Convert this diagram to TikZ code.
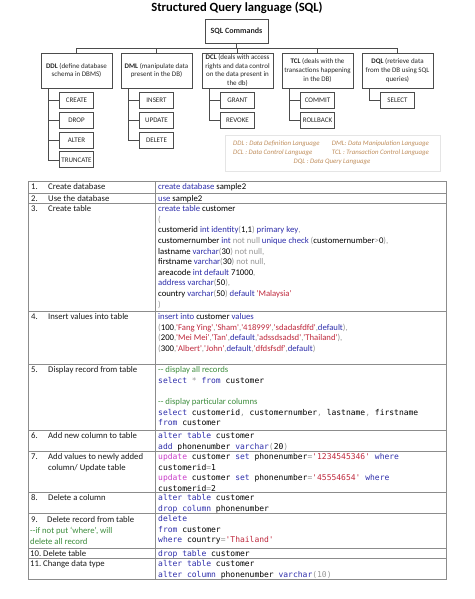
\documentclass[tikz,border=0pt]{standalone}
\usepackage{fontspec}
\setmainfont{Carlito}
\newfontfamily\sqlfont{Carlito}
\newfontfamily\codemono{DejaVu Sans Mono}
\usetikzlibrary{positioning}

% SQL Server style colours
\definecolor{sqlblue}{RGB}{45,45,170}
\definecolor{sqlred}{RGB}{190,40,60}
\definecolor{sqlgray}{RGB}{150,150,150}
\definecolor{sqlpink}{RGB}{200,60,200}
\definecolor{sqlgreen}{RGB}{60,140,60}
\definecolor{legendtan}{RGB}{190,140,90}

\newcommand{\sqkw}[1]{\textcolor{sqlblue}{#1}}
\newcommand{\sqstr}[1]{\textcolor{sqlred}{#1}}
\newcommand{\sqop}[1]{\textcolor{sqlgray}{#1}}
\newcommand{\sqfn}[1]{\textcolor{sqlpink}{#1}}
\newcommand{\sqcm}[1]{\textcolor{sqlgreen}{#1}}

\begin{document}
\begin{tikzpicture}[
    x=1pt, y=-1pt, % one unit per pixel, y running downwards
    head/.style={draw=black!70, line width=0.7pt, minimum width=63pt, minimum height=24pt, font=\bfseries\fontsize{8}{9}\selectfont, text=black!85}, % Root box
    box/.style={draw=black!70, line width=0.7pt, minimum width=71pt, minimum height=35pt, inner sep=1pt, align=center, font=\fontsize{7}{8.6}\selectfont, text=black!85}, % Category boxes
    leaf/.style={draw=black!70, line width=0.7pt, minimum width=34pt, minimum height=16pt, inner sep=0pt, font=\fontsize{7}{8}\selectfont, text=black!85}, % Command boxes
    link/.style={draw=black!70, line width=0.6pt}, % Tree connectors
    grid/.style={draw=black!45, line width=0.8pt}, % Table rules
    cell/.style={anchor=north west, inner sep=0pt, align=left, font=\sqlfont\fontsize{8.7}{10.6}\selectfont}, % Code cell
    monocell/.style={cell, font=\codemono\fontsize{8}{10.6}\selectfont}, % Mono code cell
    labelcell/.style={cell, font=\fontsize{8.7}{10.6}\selectfont, text=black!90}, % Left column
    legend/.style={inner sep=0pt, text=legendtan, font=\itshape\fontsize{6.8}{8}\selectfont} % Abbreviations
]
    \useasboundingbox (0,0) rectangle (474,599);

    \def\codex{158} % Left edge of code text
    \def\labx{31}   % Left edge of step labels

    % --- Title ---
    \node[font=\bfseries\fontsize{12.6}{14}\selectfont] (title) at (237,8) {Structured Query language (SQL)};

    % --- Tree of commands ---
    \node[head] (cmd) at (236.5,31) {SQL Commands};

    \node[box] (ddl) at (76.5,70.5)  {\textbf{DDL} (define database\\schema in DBMS)};
    \node[box] (dml) at (156.5,70.5) {\textbf{DML} (manipulate data\\present in the DB)};
    \node[box] (dcl) at (237.5,70.5) {\textbf{DCL} (deals with access\\rights and data control\\on the data present in\\the db)};
    \node[box] (tcl) at (317.5,70.5) {\textbf{TCL} (deals with the\\transactions happening\\in the DB)};
    \node[box] (dql) at (397.5,70.5) {\textbf{DQL} (retrieve data\\from the DB using SQL\\queries)};

    \foreach \n in {ddl,dml,dcl,tcl,dql}
        \draw[link] (cmd.south) -- ++(0,5) -| (\n.north);

    % DDL commands
    \node[leaf, below=4pt of ddl]      (create)   {CREATE};
    \node[leaf, below=3pt of create]   (drop)     {DROP};
    \node[leaf, below=3pt of drop]     (alter)    {ALTER};
    \node[leaf, below=3pt of alter]    (truncate) {TRUNCATE};
    % DML commands
    \node[leaf, below=4pt of dml]      (insert)   {INSERT};
    \node[leaf, below=3pt of insert]   (update)   {UPDATE};
    \node[leaf, below=3pt of update]   (delete)   {DELETE};
    % DCL commands
    \node[leaf, below=4pt of dcl]      (grant)    {GRANT};
    \node[leaf, below=3pt of grant]    (revoke)   {REVOKE};
    % TCL commands
    \node[leaf, below=4pt of tcl]      (commit)   {COMMIT};
    \node[leaf, below=3pt of commit]   (rollback) {ROLLBACK};
    % DQL commands
    \node[leaf, below=4pt of dql]      (select)   {SELECT};

    \foreach \p/\c in {ddl/create, ddl/drop, ddl/alter, ddl/truncate,
                       dml/insert, dml/update, dml/delete,
                       dcl/grant, dcl/revoke,
                       tcl/commit, tcl/rollback,
                       dql/select}
        \draw[link] ([xshift=8pt]\p.south west) |- (\c.west);

    % --- Legend of abbreviations ---
    \draw[draw=black!10] (225,135) rectangle (440,171);
    \node[legend, anchor=west] (lgddl) at (233,144) {DDL : Data Definition Language};
    \node[legend, anchor=east] (lgdml) at (429,144) {DML: Data Manipulation Language};
    \node[legend, anchor=west] (lgdcl) at (233,153) {DCL : Data Control Language};
    \node[legend, anchor=east] (lgtcl) at (429,153) {TCL : Transaction Control Language};
    \node[legend] (lgdql) at (332,162) {DQL : Data Query Language};

    % --- Table frame ---
    \draw[grid] (28,181) rectangle (446,579);
    \draw[grid] (155,181) -- (155,579);
    \foreach \y in {193,203,311,364,430,451,492,513,548,558}
        \draw[grid] (28,\y) -- (446,\y);

    % --- Step labels ---
    \node[labelcell] (lab1)  at (\labx,182) {\strut\makebox[17pt][l]{1.}Create database};
    \node[labelcell] (lab2)  at (\labx,194) {\strut\makebox[17pt][l]{2.}Use the database};
    \node[labelcell] (lab3)  at (\labx,204) {\strut\makebox[17pt][l]{3.}Create table};
    \node[labelcell] (lab4)  at (\labx,312) {\strut\makebox[17pt][l]{4.}Insert values into table};
    \node[labelcell] (lab5)  at (\labx,365) {\strut\makebox[17pt][l]{5.}Display record from table};
    \node[labelcell] (lab6)  at (\labx,431) {\strut\makebox[17pt][l]{6.}Add new column to table};
    \node[labelcell] (lab7)  at (\labx,452) {\strut\makebox[17pt][l]{7.}Add values to newly added\\\hspace*{17pt}column/ Update table};
    \node[labelcell] (lab8)  at (\labx,493) {\strut\makebox[17pt][l]{8.}Delete a column};
    \node[labelcell, font=\fontsize{8.7}{11.3}\selectfont] (lab9) at (\labx-1,514) {\strut\hspace*{1pt}\makebox[16pt][l]{9.}Delete record from table\\\sqcm{-{}-if not put `where', will}\\\sqcm{delete all record}};
    \node[labelcell] (lab10) at (\labx-1,549) {\strut 10.\ Delete table};
    \node[labelcell] (lab11) at (\labx-1,559) {\strut 11.\ Change data type};

    % --- Code cells ---
    \node[cell] (code1) at (\codex,182) {\strut\sqkw{create database} sample2};
    \node[cell] (code2) at (\codex,194) {\strut\sqkw{use} sample2};
    \node[cell] (code3) at (\codex,204) {\strut\sqkw{create table} customer\\
        \sqop{(}\\
        customerid \sqkw{int identity}\sqop{(}1,1\sqop{)} \sqkw{primary key}\sqop{,}\\
        customernumber \sqkw{int} \sqop{not null} \sqkw{unique check} \sqop{(}customernumber\sqop{>}0\sqop{),}\\
        lastname \sqkw{varchar}\sqop{(}30\sqop{) not null,}\\
        firstname \sqkw{varchar}\sqop{(}30\sqop{) not null,}\\
        areacode \sqkw{int default} 71000\sqop{,}\\
        \sqkw{address varchar}\sqop{(}50\sqop{),}\\
        country \sqkw{varchar}\sqop{(}50\sqop{)} \sqkw{default} \sqstr{'Malaysia'}\\
        \sqop{)}};
    \node[cell] (code4) at (\codex,312) {\strut\sqkw{insert into} customer \sqkw{values}\\
        \sqop{(}100\sqop{,}\sqstr{'Fang Ying'}\sqop{,}\sqstr{'Sham'}\sqop{,}\sqstr{'418999'}\sqop{,}\sqstr{'sdadasfdfd'}\sqop{,}\sqkw{default}\sqop{),}\\
        \sqop{(}200\sqop{,}\sqstr{'Mei Mei'}\sqop{,}\sqstr{'Tan'}\sqop{,}\sqkw{default}\sqop{,}\sqstr{'adssdsadsd'}\sqop{,}\sqstr{'Thailand'}\sqop{),}\\
        \sqop{(}300\sqop{,}\sqstr{'Albert'}\sqop{,}\sqstr{'John'}\sqop{,}\sqkw{default}\sqop{,}\sqstr{'dfdsfsdf'}\sqop{,}\sqkw{default}\sqop{)}};
    \node[cell] (code5) at (\codex,365) {\strut\sqcm{-{}- display all records}\\
        {\codemono\fontsize{8}{10.6}\selectfont\sqkw{select} \sqop{*} \sqkw{from} customer}\\
        \strut\\
        \sqcm{-{}- display particular columns}\\
        {\codemono\fontsize{8}{10.6}\selectfont\sqkw{select} customerid\sqop{,} customernumber\sqop{,} lastname\sqop{,} firstname}\\
        {\codemono\fontsize{8}{10.6}\selectfont\sqkw{from} customer}};
    \node[monocell] (code6) at (\codex,431) {\strut\sqkw{alter table} customer\\
        \sqkw{add} phonenumber \sqkw{varchar}\sqop{(}20\sqop{)}};
    \node[monocell] (code7) at (\codex,452) {\strut\sqfn{update} customer \sqkw{set} phonenumber\sqop{=}\sqstr{'1234545346'} \sqkw{where}\\
        customerid\sqop{=}1\\
        \sqfn{update} customer \sqkw{set} phonenumber\sqop{=}\sqstr{'45554654'} \sqkw{where}\\
        customerid\sqop{=}2};
    \node[monocell] (code8) at (\codex,493) {\strut\sqkw{alter table} customer\\
        \sqkw{drop column} phonenumber};
    \node[monocell] (code9) at (\codex,514) {\strut\sqkw{delete}\\
        \sqkw{from} customer\\
        \sqkw{where} country\sqop{=}\sqstr{'Thailand'}};
    \node[monocell] (code10) at (\codex,549) {\strut\sqkw{drop table} customer};
    \node[monocell] (code11) at (\codex,559) {\strut\sqkw{alter table} customer\\
        \sqkw{alter column} phonenumber \sqkw{varchar}\sqop{(10)}};

\end{tikzpicture}
\end{document}
